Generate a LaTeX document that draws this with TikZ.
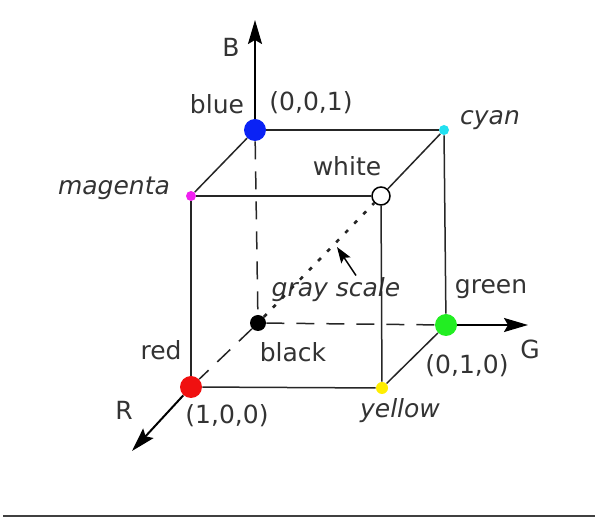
\documentclass[tikz,border=0pt]{standalone}
\usepackage{fontspec}
\setmainfont{DejaVu Sans}
\usetikzlibrary{arrows.meta,positioning}
\definecolor{txt}{HTML}{333333}
\definecolor{cred}{HTML}{F01010}
\definecolor{cgreen}{HTML}{22EE22}
\definecolor{cblue}{HTML}{0A22F5}
\definecolor{ccyan}{HTML}{22E0F0}
\definecolor{cmag}{HTML}{F020F0}
\definecolor{cyel}{HTML}{FFEE00}

\begin{document}
\begin{tikzpicture}[x=0.5pt, y=-0.5pt,
  font=\fontsize{12.5}{15}\selectfont, text=txt,
  dot/.style={circle, draw=none, inner sep=0pt},
  lbl/.style={inner sep=1pt},
  edge/.style={line width=0.75pt, draw=black!85},
  hid/.style={edge, dash pattern=on 9pt off 6pt},
  grayline/.style={line width=1.3pt, draw=black!85, dash pattern=on 2pt off 4.5pt},
  axis/.style={line width=1pt, -{Stealth[length=12pt,width=7pt,inset=2pt]}}]
  \useasboundingbox (0,0) rectangle (595,523);
  % cube corners
  \node[dot, fill=cblue, minimum size=11pt] (blue) at (255,130) {};
  \node[dot, fill=ccyan, minimum size=5pt] (cyan) at (444,130) {};
  \node[dot, fill=cmag, minimum size=5pt] (magenta) at (191,196) {};
  \node[dot, draw=black, fill=white, line width=0.75pt, minimum size=9pt] (white) at (381,196) {};
  \node[dot, fill=black, minimum size=8pt] (black) at (258,323) {};
  \node[dot, fill=cgreen, minimum size=11pt] (green) at (446,325) {};
  \node[dot, fill=cred, minimum size=11pt] (red) at (191,387) {};
  \node[dot, fill=cyel, minimum size=6pt] (yellow) at (382,388) {};
  \coordinate (Bend) at (255,20);
  \coordinate (Gend) at (528,325);
  \coordinate (Rend) at (132,451);
  \coordinate (gtip) at (337,247);
  % labels
  \node[lbl] (Blbl) at (231,47) {B};
  \node[lbl] (Glbl) at (530,349) {G};
  \node[lbl] (Rlbl) at (124,410) {R};
  \node[lbl] (bluelbl) at (217,104) {blue};
  \node[lbl] (bluecrd) at (311,103) {(0,0,1)};
  \node[lbl] (cyanlbl) at (490,120) {\itshape cyan};
  \node[lbl] (maglbl) at (114,188) {\itshape magenta};
  \node[lbl] (whitelbl) at (347,166) {white};
  \node[lbl] (gscale) at (336,290) {\itshape gray scale};
  \node[lbl] (greenlbl) at (491,289) {green};
  \node[lbl] (greencrd) at (467,366) {(0,1,0)};
  \node[lbl] (blacklbl) at (293,352) {black};
  \node[lbl] (redlbl) at (161,350) {red};
  \node[lbl] (redcrd) at (227,416) {(1,0,0)};
  \node[lbl] (yellbl) at (400,411) {\itshape yellow};
  % edges
  \draw[edge] (blue) -- (cyan);
  \draw[edge] (blue) -- (magenta);
  \draw[edge] (magenta) -- (white);
  \draw[edge] (cyan) -- (white);
  \draw[edge] (magenta) -- (red);
  \draw[edge] (white) -- (yellow);
  \draw[edge] (cyan) -- (green);
  \draw[edge] (red) -- (yellow);
  \draw[edge] (yellow) -- (green);
  \draw[hid] (blue) -- (black);
  \draw[hid] (black) -- (green);
  \draw[hid] (black) -- (red);
  \draw[grayline] (black) -- (white);
  % axes
  \draw[axis] (blue) -- (Bend);
  \draw[axis] (green) -- (Gend);
  \draw[axis] (red) -- (Rend);
  \draw[line width=0.75pt, -{Stealth[length=8pt,width=5.5pt,inset=1.5pt]}] ([xshift=10pt]gscale.north) -- (gtip);
  \draw[line width=1pt, black!75] (3,516) -- (595,516);
\end{tikzpicture}
\end{document}
